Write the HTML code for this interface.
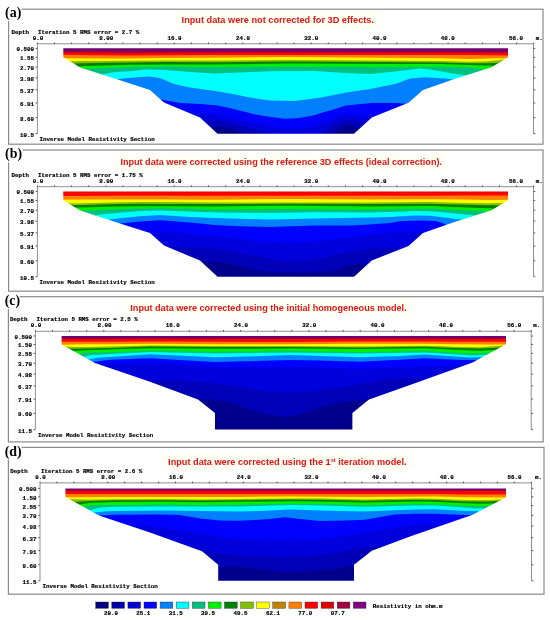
<!DOCTYPE html>
<html lang="en"><head><meta charset="utf-8"><title>Inverse model resistivity sections</title>
<style>html,body{margin:0;padding:0;background:#fff}body{width:550px;height:620px;overflow:hidden}svg{display:block}</style>
</head><body>
<svg width="550" height="620" viewBox="0 0 550 620">
<rect width="550" height="620" fill="#ffffff"/>
<defs><filter id="soft" x="-2%" y="-5%" width="104%" height="110%"><feGaussianBlur stdDeviation="0.45"/></filter></defs>
<g id="panel-a">
<rect x="8.6" y="9.2" width="534.4" height="135" fill="none" stroke="#8a8a8a" stroke-width="1.2"/>
<rect x="3" y="6" width="18.7" height="15" fill="#ffffff"/>
<text x="5.1" y="16.9" font-family="Liberation Serif, DejaVu Serif, serif" font-weight="bold" font-size="13.9" fill="#000">(a)</text>
<rect x="175.6" y="11.3" width="202.4" height="17" fill="#fffff4"/>
<text x="181.6" y="23.3" font-family="Liberation Sans, DejaVu Sans, sans-serif" font-weight="bold" font-size="9.1" fill="#e31414" textLength="192.4" lengthAdjust="spacingAndGlyphs">Input data were not corrected for 3D effects.</text>
<g filter="url(#soft)">
<rect x="62.3" y="47.8" width="446.7" height="86.4" fill="#700070"/>
<polygon points="60,134.7 60,51 95,51.1 130,51.1 165,51.2 215,51.4 290,51.3 380,51.6 440,51.3 470,51.3 510,51.4 510,134.7" fill="#a00040"/>
<polygon points="60,134.7 60,52.6 95,52.6 130,52.9 165,52.7 215,52.6 290,52.6 380,52.7 440,52.6 470,52.6 510,52.8 510,134.7" fill="#ff0000"/>
<polygon points="60,134.7 60,54.8 95,55.2 130,55.4 165,55.2 215,54.9 290,54.9 380,54.9 440,54.9 470,55 510,55.5 510,134.7" fill="#ff8000"/>
<polygon points="60,134.7 60,57.2 65.7,58.2 95,58.4 130,58.4 165,58.1 215,57.8 290,56.9 380,57.7 440,58.2 470,58.9 490,58.6 510,58.2 510,134.7" fill="#ffff00"/>
<polygon points="70.1,134.7 70.1,61.2 80,61.1 95,61 130,60.7 165,60.4 215,60.6 290,60.1 380,60.4 440,61.1 470,61.8 485,61.6 505.5,59.6 505.5,134.7" fill="#80c000"/>
<polygon points="74.4,134.7 74.4,63.5 95,63 130,62.5 165,62.1 215,62.2 290,61.5 380,62 440,62.5 470,63.3 485,63.3 500,62.7 500,134.7" fill="#008000"/>
<polygon points="79,134.7 79,66.6 95,65.7 130,64.8 165,64.4 215,64.4 290,63.5 380,64 440,64 470,65.1 485,65.6 493.6,65.8 493.6,134.7" fill="#00f000"/>
<polygon points="84.5,134.7 84.5,69.2 90.7,68.5 101.6,67.9 118,67.4 130,67 165,66.6 215,67.1 290,66.4 380,66.9 440,66.7 470,67.6 484.5,69.2 484.5,134.7" fill="#00c080"/>
<polygon points="102,134.7 102,74.6 115,72 130,71.2 145,69.5 165,70 190,72 215,73.6 240,72.5 270,71.2 315,71 345,73 370,74 380,73 400,71 420,68.6 430,69.6 450,73 466,75.2 466,134.7" fill="#00ffff"/>
<polygon points="117.5,134.7 117.5,79.2 128,77.9 140,76.9 149,76.6 160,78 174,84 190,87.6 215,91 230,93.6 250,97.6 270,100.5 295,101 321,97.5 346,92.4 370,89 395,84 410,78.6 425,77.2 445,78.5 453.5,79.5 453.5,134.7" fill="#0080ff"/>
<polygon points="161,134.7 161,99.6 180,103 200,104 217,105.6 229.7,108 241.4,110.9 255.9,114.5 270.5,117 285,118.7 299.5,117.9 314,115.3 324.3,112 336,108.7 346,105.5 372,103 397,103 408,104 408,134.7" fill="#0000ff"/>
<polygon points="190,134.7 190,113.5 205,113.8 219.5,115.3 234,118.2 248.6,121.8 263.2,125.5 277.7,127.6 285,128.4 299.5,128.4 314,126.2 325.7,121.8 334.5,118.2 343.2,115.3 353.4,114.5 365,116 375,116.2 375,134.7" fill="#0000dc"/>
<polygon points="207,134.7 207,120.5 219.5,121 234,124 248.6,127.6 263.2,131.3 270.5,134.5 318.5,134.5 325.7,129.8 334.5,124 343.2,120.4 350.5,119.6 357.7,121 365,124 365,134.7" fill="#0000b8"/>
<polygon points="212.3,134.7 212.3,127.6 219.5,126.2 234,129 245.7,134.5 333,134.5 338.8,128.4 346,125.5 352,125.5 357.7,128.4 360,130 360,134.7" fill="#00008c"/>
<path d="M55.3 45.8H516V136.2H55.3ZM63.3 48.3L63.3 57.2L80.2 67.5L120 80.3L150 90L164 102.5L200 117.4L217.5 133.7L354 133.7L371.8 117.4L408.5 102.8L423 90L453 79.5L491.5 67.2L508 57.2L508 48.3Z" fill="#ffffff" fill-rule="evenodd"/>
</g>
<path d="M37.4 133.6V43.8H533.5V133.6" fill="none" stroke="#848484" stroke-width="0.9"/>
<path d="M37.4 44v-1.5M54.5 44v-1.5M71.6 44v-1.5M88.7 44v-1.5M105.9 44v-1.5M123 44v-1.5M140.1 44v-1.5M157.2 44v-1.5M174.3 44v-1.5M191.4 44v-1.5M208.5 44v-1.5M225.7 44v-1.5M242.8 44v-1.5M259.9 44v-1.5M277 44v-1.5M294.1 44v-1.5M311.2 44v-1.5M328.3 44v-1.5M345.5 44v-1.5M362.6 44v-1.5M379.7 44v-1.5M396.8 44v-1.5M413.9 44v-1.5M431 44v-1.5M448.1 44v-1.5M465.2 44v-1.5M482.4 44v-1.5M499.5 44v-1.5M516.6 44v-1.5M533.7 44v-1.5M37.2 48.4h-1.6M533.7 48.4h1.6M37.2 57.3h-1.6M533.7 57.3h1.6M37.2 67.1h-1.6M533.7 67.1h1.6M37.2 78h-1.6M533.7 78h1.6M37.2 89.8h-1.6M533.7 89.8h1.6M37.2 103h-1.6M533.7 103h1.6M37.2 117.7h-1.6M533.7 117.7h1.6M37.2 133.6h-1.6M533.7 133.6h1.6" fill="none" stroke="#383838" stroke-width="0.85"/>
<g font-family="Liberation Mono, DejaVu Sans Mono, monospace" font-weight="bold" font-size="5.9" stroke="#000" stroke-width="0.18" fill="#000">
<text x="11.6" y="33.6" textLength="17.5" lengthAdjust="spacingAndGlyphs">Depth</text>
<text x="38.1" y="33.6" textLength="101.2" lengthAdjust="spacingAndGlyphs">Iteration 5 RMS error = 2.7 %</text>
<text x="32.7" y="39.6" textLength="10.5" lengthAdjust="spacingAndGlyphs">0.0</text>
<text x="99.3" y="39.6" textLength="14" lengthAdjust="spacingAndGlyphs">8.00</text>
<text x="167.6" y="39.6" textLength="14" lengthAdjust="spacingAndGlyphs">16.0</text>
<text x="235.9" y="39.6" textLength="14" lengthAdjust="spacingAndGlyphs">24.0</text>
<text x="304.2" y="39.6" textLength="14" lengthAdjust="spacingAndGlyphs">32.0</text>
<text x="372.5" y="39.6" textLength="14" lengthAdjust="spacingAndGlyphs">40.0</text>
<text x="440.8" y="39.6" textLength="14" lengthAdjust="spacingAndGlyphs">48.0</text>
<text x="509.1" y="39.6" textLength="14" lengthAdjust="spacingAndGlyphs">56.0</text>
<text x="535.7" y="39.6" textLength="7" lengthAdjust="spacingAndGlyphs">m.</text>
<text x="16.5" y="51.3" textLength="17.5" lengthAdjust="spacingAndGlyphs">0.500</text>
<text x="20" y="60.2" textLength="14" lengthAdjust="spacingAndGlyphs">1.55</text>
<text x="20" y="70" textLength="14" lengthAdjust="spacingAndGlyphs">2.70</text>
<text x="20" y="80.9" textLength="14" lengthAdjust="spacingAndGlyphs">3.98</text>
<text x="20" y="92.7" textLength="14" lengthAdjust="spacingAndGlyphs">5.37</text>
<text x="20" y="105.9" textLength="14" lengthAdjust="spacingAndGlyphs">6.91</text>
<text x="20" y="120.6" textLength="14" lengthAdjust="spacingAndGlyphs">8.60</text>
<text x="20" y="136.5" textLength="14" lengthAdjust="spacingAndGlyphs">10.5</text>
<text x="39.6" y="140.8" textLength="115.2" lengthAdjust="spacingAndGlyphs">Inverse Model Resistivity Section</text>
</g>
</g>
<g id="panel-b">
<rect x="8.6" y="150" width="534.4" height="141.2" fill="none" stroke="#8a8a8a" stroke-width="1.2"/>
<rect x="3" y="147.3" width="19.5" height="15" fill="#ffffff"/>
<text x="5.1" y="158.2" font-family="Liberation Serif, DejaVu Serif, serif" font-weight="bold" font-size="13.9" fill="#000">(b)</text>
<rect x="114.4" y="153.3" width="331.6" height="17" fill="#fffff4"/>
<text x="120.4" y="165.3" font-family="Liberation Sans, DejaVu Sans, sans-serif" font-weight="bold" font-size="9.1" fill="#e31414" textLength="321.6" lengthAdjust="spacingAndGlyphs">Input data were corrected using the reference 3D effects (ideal correction).</text>
<g filter="url(#soft)">
<rect x="62.3" y="190.9" width="446.7" height="86.4" fill="#d40000"/>
<polygon points="60,277.8 60,192.3 510,192.3 510,277.8" fill="#ff0000"/>
<polygon points="60,277.8 60,196 110,195.7 140,195.8 215,195.8 290,195.8 370,195.8 430,195.8 470,195.6 510,195.6 510,277.8" fill="#ff8000"/>
<polygon points="60,277.8 60,199.7 85,199.6 110,199.5 140,199.5 165,199.5 215,199.7 290,199 370,199.5 430,199.2 460,199.6 490,199.9 510,199.8 510,277.8" fill="#ffff00"/>
<polygon points="68,277.8 68,203.3 76,203.4 90,203 110,202.4 140,202.1 165,202.1 215,202.4 290,202.4 370,202.4 430,202 455,202.7 487.7,203.3 503,203 503,277.8" fill="#80c000"/>
<polygon points="71.2,277.8 71.2,205.2 85,205 100,204.5 120,204 140,203.8 165,203.9 215,204 290,203.8 370,204 430,203.7 455,204.4 487.7,205.2 499.7,205.2 499.7,277.8" fill="#008000"/>
<polygon points="75.4,277.8 75.4,207.6 90,207.3 105,206.8 120,206.4 140,206.2 165,206.3 215,206.4 290,205.8 370,206.4 430,206 455,207.1 487.7,208.2 494.3,208.5 494.3,277.8" fill="#00f000"/>
<polygon points="81,277.8 81,210.7 95,210 110,209.4 120,209 140,208.5 160,208.2 215,209.6 290,208.9 370,209.6 430,208.7 455,209.8 475,210.8 486.6,211.1 486.6,277.8" fill="#00c080"/>
<polygon points="96,277.8 96,215.3 105,214 120,212.7 140,211.1 160,210.4 190,211.6 215,212.5 270,213 315,212.2 370,212.5 390,212 415,211 430,211.3 445,212.5 455,213.6 465,214.6 474.6,215.3 474.6,277.8" fill="#00ffff"/>
<polygon points="109,277.8 109,219.6 120,218.2 140,216.2 160,215.1 190,217 215,218 270,219.6 315,218.6 370,217.5 390,216.9 415,215.4 430,215.7 445,217.5 455,219.1 461.5,219.6 461.5,277.8" fill="#0080ff"/>
<polygon points="120,277.8 120,223.4 140,221.6 160,220.2 190,222.6 215,224.9 240,226.2 270,227 315,225.6 350,225.6 370,224.4 390,223.1 400,221.3 420,220.4 436,221 443,223.2 447,225.6 447,277.8" fill="#0000ff"/>
<polygon points="149,277.8 149,233 165,231.5 180,233 195,235 222,236.8 249.5,240.5 277,242.3 295,243 312,241.6 339.5,238.8 367,235.2 385,232.8 410,231.6 424,232.2 424,277.8" fill="#0000dc"/>
<polygon points="165.4,277.8 165.4,247 195,247.7 222,249.5 249.5,255 268,258.6 285,261.8 303,261.4 321.4,258.2 339.5,254 357.7,250.5 376,247.9 397,248 397,277.8" fill="#0000b8"/>
<polygon points="200,277.8 200,261 222,262.3 240.5,266 258.6,270.5 277,272 295,272.6 312,272.4 336,270.6 345,267.2 357.7,264 367,264.7 367,277.8" fill="#00008c"/>
<path d="M55.3 188.9H516V279.3H55.3ZM63.3 191.4L63.3 200.3L80.2 210.6L120 223.4L150 233.1L164 245.6L200 260.5L217.5 276.8L354 276.8L371.8 260.5L408.5 245.9L423 233.1L453 222.6L491.5 210.3L508 200.3L508 191.4Z" fill="#ffffff" fill-rule="evenodd"/>
</g>
<path d="M37.4 276.7V186.7H533.5V276.7" fill="none" stroke="#848484" stroke-width="0.9"/>
<path d="M37.4 186.9v-1.5M54.5 186.9v-1.5M71.6 186.9v-1.5M88.7 186.9v-1.5M105.9 186.9v-1.5M123 186.9v-1.5M140.1 186.9v-1.5M157.2 186.9v-1.5M174.3 186.9v-1.5M191.4 186.9v-1.5M208.5 186.9v-1.5M225.7 186.9v-1.5M242.8 186.9v-1.5M259.9 186.9v-1.5M277 186.9v-1.5M294.1 186.9v-1.5M311.2 186.9v-1.5M328.3 186.9v-1.5M345.5 186.9v-1.5M362.6 186.9v-1.5M379.7 186.9v-1.5M396.8 186.9v-1.5M413.9 186.9v-1.5M431 186.9v-1.5M448.1 186.9v-1.5M465.2 186.9v-1.5M482.4 186.9v-1.5M499.5 186.9v-1.5M516.6 186.9v-1.5M533.7 186.9v-1.5M37.2 191.5h-1.6M533.7 191.5h1.6M37.2 200.4h-1.6M533.7 200.4h1.6M37.2 210.2h-1.6M533.7 210.2h1.6M37.2 221.1h-1.6M533.7 221.1h1.6M37.2 232.9h-1.6M533.7 232.9h1.6M37.2 246.1h-1.6M533.7 246.1h1.6M37.2 260.8h-1.6M533.7 260.8h1.6M37.2 276.7h-1.6M533.7 276.7h1.6" fill="none" stroke="#383838" stroke-width="0.85"/>
<g font-family="Liberation Mono, DejaVu Sans Mono, monospace" font-weight="bold" font-size="5.9" stroke="#000" stroke-width="0.18" fill="#000">
<text x="11.6" y="176.7" textLength="17.5" lengthAdjust="spacingAndGlyphs">Depth</text>
<text x="38.1" y="176.7" textLength="104.7" lengthAdjust="spacingAndGlyphs">Iteration 5 RMS error = 1.75 %</text>
<text x="32.7" y="182.7" textLength="10.5" lengthAdjust="spacingAndGlyphs">0.0</text>
<text x="99.3" y="182.7" textLength="14" lengthAdjust="spacingAndGlyphs">8.00</text>
<text x="167.6" y="182.7" textLength="14" lengthAdjust="spacingAndGlyphs">16.0</text>
<text x="235.9" y="182.7" textLength="14" lengthAdjust="spacingAndGlyphs">24.0</text>
<text x="304.2" y="182.7" textLength="14" lengthAdjust="spacingAndGlyphs">32.0</text>
<text x="372.5" y="182.7" textLength="14" lengthAdjust="spacingAndGlyphs">40.0</text>
<text x="440.8" y="182.7" textLength="14" lengthAdjust="spacingAndGlyphs">48.0</text>
<text x="509.1" y="182.7" textLength="14" lengthAdjust="spacingAndGlyphs">56.0</text>
<text x="535.7" y="182.7" textLength="7" lengthAdjust="spacingAndGlyphs">m.</text>
<text x="16.5" y="194.4" textLength="17.5" lengthAdjust="spacingAndGlyphs">0.500</text>
<text x="20" y="203.3" textLength="14" lengthAdjust="spacingAndGlyphs">1.55</text>
<text x="20" y="213.1" textLength="14" lengthAdjust="spacingAndGlyphs">2.70</text>
<text x="20" y="224" textLength="14" lengthAdjust="spacingAndGlyphs">3.98</text>
<text x="20" y="235.8" textLength="14" lengthAdjust="spacingAndGlyphs">5.37</text>
<text x="20" y="249" textLength="14" lengthAdjust="spacingAndGlyphs">6.91</text>
<text x="20" y="263.7" textLength="14" lengthAdjust="spacingAndGlyphs">8.60</text>
<text x="20" y="279.6" textLength="14" lengthAdjust="spacingAndGlyphs">10.5</text>
<text x="39.6" y="283.8" textLength="115.2" lengthAdjust="spacingAndGlyphs">Inverse Model Resistivity Section</text>
</g>
</g>
<g id="panel-c">
<rect x="8.4" y="296.7" width="534.8" height="145.2" fill="none" stroke="#8a8a8a" stroke-width="1.2"/>
<rect x="3" y="294.1" width="16.7" height="15" fill="#ffffff"/>
<text x="4.7" y="305" font-family="Liberation Serif, DejaVu Serif, serif" font-weight="bold" font-size="13.9" fill="#000">(c)</text>
<rect x="124.3" y="298.6" width="286.3" height="17" fill="#fffff4"/>
<text x="130.3" y="310.6" font-family="Liberation Sans, DejaVu Sans, sans-serif" font-weight="bold" font-size="9.1" fill="#e31414" textLength="276.3" lengthAdjust="spacingAndGlyphs">Input data were corrected using the initial homogeneous model.</text>
<g filter="url(#soft)">
<rect x="60.6" y="335.5" width="446.4" height="94.6" fill="#700070"/>
<polygon points="58,430.6 58,337.9 508,338 508,430.6" fill="#a00040"/>
<polygon points="58,430.6 58,339.1 508,339.1 508,430.6" fill="#ff0000"/>
<polygon points="58,430.6 58,341.8 110,341.8 150,341.6 215,341.8 290,342 360,341.6 425,341.6 455,341.7 508,341.8 508,430.6" fill="#ff8000"/>
<polygon points="58,430.6 58,344.3 63.6,344.8 85,344.2 110,344.2 150,343.8 215,344.2 290,344.2 360,343.8 425,343.8 455,344.2 490,344.6 508,344.6 508,430.6" fill="#ffff00"/>
<polygon points="63.6,430.6 63.6,346.4 75,347 85,346.9 110,346.5 150,345.6 215,346.1 290,346.1 360,346.4 425,345.7 455,346.8 480,347.2 503,345.6 503,430.6" fill="#80c000"/>
<polygon points="67.6,430.6 67.6,348.8 85,348.5 110,347.9 150,346.6 215,347.1 290,347.1 360,347.5 425,346.8 455,347.9 480,348.6 499.7,347.6 499.7,430.6" fill="#008000"/>
<polygon points="71.6,430.6 71.6,351.2 85,350.2 110,349.6 150,348.2 215,348.8 290,348.5 360,349.1 425,348.3 455,349.7 480,350.8 495.9,350 495.9,430.6" fill="#00f000"/>
<polygon points="77.6,430.6 77.6,354 85,352.6 110,352.2 150,350.8 215,351.8 290,351.1 360,352.2 425,350.9 455,352.7 475,353.6 490.4,352.7 490.4,430.6" fill="#00c080"/>
<polygon points="83.6,430.6 83.6,357 90,355.2 110,353.9 150,352 215,353.6 290,352.5 360,353.4 425,352.4 455,354.2 470,355.4 486.6,354.9 486.6,430.6" fill="#00ffff"/>
<polygon points="87.6,430.6 87.6,359.4 100,357.6 110,356.9 150,354.2 215,357.3 255,356.2 290,355.1 360,357.2 400,356 425,354.6 455,356.4 468,357.6 482.3,357.3 482.3,430.6" fill="#0080ff"/>
<polygon points="92.6,430.6 92.6,362 110,359.8 150,358.2 180,360 215,362 255,361 290,360 320,360.5 360,361.8 400,359.8 425,358.2 455,359.7 476.3,360.1 476.3,430.6" fill="#0000ff"/>
<polygon points="96,430.6 96,363.5 110,364 150,363 210,367 255,367.5 310,367 355,369 410,367 450,366 467,365.2 467,430.6" fill="#0000dc"/>
<polygon points="147,430.6 147,380.3 185,381 212,382.7 239.5,387.3 267,391 285,392.2 303,391.8 330.5,389 357.7,384.5 385,380 410,378 426,379.5 426,430.6" fill="#0000b8"/>
<polygon points="198,430.6 198,399.6 212,399.5 230.5,402.7 248.6,409 267,414.5 285,417 299.5,414.5 321.4,407.6 339.5,402.7 357.7,400.4 369,399.6 369,430.6" fill="#00008c"/>
<path d="M53.6 333.5H514V432.1H53.6ZM61.6 336L61.6 344.5L78 353.6L95 363L150 381.8L198 399.6L215 413L215 429.6L352.4 429.6L352.4 413L369 399.6L410 385L472.6 362.6L489.6 353.3L506 344.2L506 336Z" fill="#ffffff" fill-rule="evenodd"/>
</g>
<path d="M35.4 429.6V331.3H531.2V429.6" fill="none" stroke="#848484" stroke-width="0.9"/>
<path d="M35.4 331.5v-1.5M52.5 331.5v-1.5M69.6 331.5v-1.5M86.7 331.5v-1.5M103.8 331.5v-1.5M120.9 331.5v-1.5M138 331.5v-1.5M155.1 331.5v-1.5M172.2 331.5v-1.5M189.3 331.5v-1.5M206.4 331.5v-1.5M223.5 331.5v-1.5M240.6 331.5v-1.5M257.6 331.5v-1.5M274.7 331.5v-1.5M291.8 331.5v-1.5M308.9 331.5v-1.5M326 331.5v-1.5M343.1 331.5v-1.5M360.2 331.5v-1.5M377.3 331.5v-1.5M394.4 331.5v-1.5M411.5 331.5v-1.5M428.6 331.5v-1.5M445.7 331.5v-1.5M462.8 331.5v-1.5M479.9 331.5v-1.5M497 331.5v-1.5M514.1 331.5v-1.5M531.2 331.5v-1.5M35.2 336h-1.6M531.4 336h1.6M35.2 344.5h-1.6M531.4 344.5h1.6M35.2 353.4h-1.6M531.4 353.4h1.6M35.2 363.2h-1.6M531.4 363.2h1.6M35.2 374.1h-1.6M531.4 374.1h1.6M35.2 385.9h-1.6M531.4 385.9h1.6M35.2 399.1h-1.6M531.4 399.1h1.6M35.2 413.4h-1.6M531.4 413.4h1.6M35.2 429.6h-1.6M531.4 429.6h1.6" fill="none" stroke="#383838" stroke-width="0.85"/>
<g font-family="Liberation Mono, DejaVu Sans Mono, monospace" font-weight="bold" font-size="5.9" stroke="#000" stroke-width="0.18" fill="#000">
<text x="10.1" y="321.1" textLength="17.5" lengthAdjust="spacingAndGlyphs">Depth</text>
<text x="36.5" y="321.1" textLength="101.2" lengthAdjust="spacingAndGlyphs">Iteration 5 RMS error = 2.5 %</text>
<text x="30.8" y="327.1" textLength="10.5" lengthAdjust="spacingAndGlyphs">0.0</text>
<text x="97.4" y="327.1" textLength="14" lengthAdjust="spacingAndGlyphs">8.00</text>
<text x="165.7" y="327.1" textLength="14" lengthAdjust="spacingAndGlyphs">16.0</text>
<text x="234" y="327.1" textLength="14" lengthAdjust="spacingAndGlyphs">24.0</text>
<text x="302.3" y="327.1" textLength="14" lengthAdjust="spacingAndGlyphs">32.0</text>
<text x="370.6" y="327.1" textLength="14" lengthAdjust="spacingAndGlyphs">40.0</text>
<text x="438.9" y="327.1" textLength="14" lengthAdjust="spacingAndGlyphs">48.0</text>
<text x="507.2" y="327.1" textLength="14" lengthAdjust="spacingAndGlyphs">56.0</text>
<text x="533.2" y="327.1" textLength="7" lengthAdjust="spacingAndGlyphs">m.</text>
<text x="14.5" y="338.9" textLength="17.5" lengthAdjust="spacingAndGlyphs">0.500</text>
<text x="18" y="347.4" textLength="14" lengthAdjust="spacingAndGlyphs">1.50</text>
<text x="18" y="356.3" textLength="14" lengthAdjust="spacingAndGlyphs">2.55</text>
<text x="18" y="366.1" textLength="14" lengthAdjust="spacingAndGlyphs">3.70</text>
<text x="18" y="377" textLength="14" lengthAdjust="spacingAndGlyphs">4.98</text>
<text x="18" y="388.8" textLength="14" lengthAdjust="spacingAndGlyphs">6.37</text>
<text x="18" y="402" textLength="14" lengthAdjust="spacingAndGlyphs">7.91</text>
<text x="18" y="416.3" textLength="14" lengthAdjust="spacingAndGlyphs">9.60</text>
<text x="18" y="432.5" textLength="14" lengthAdjust="spacingAndGlyphs">11.5</text>
<text x="38.1" y="436.8" textLength="115.2" lengthAdjust="spacingAndGlyphs">Inverse Model Resistivity Section</text>
</g>
</g>
<g id="panel-d">
<rect x="8.4" y="447.4" width="535.6" height="146.8" fill="none" stroke="#8a8a8a" stroke-width="1.2"/>
<rect x="3" y="444.9" width="18.7" height="15" fill="#ffffff"/>
<text x="4.7" y="455.8" font-family="Liberation Serif, DejaVu Serif, serif" font-weight="bold" font-size="13.9" fill="#000">(d)</text>
<rect x="162.1" y="453.1" width="248.4" height="17" fill="#fffff4"/>
<text x="168.1" y="465.1" font-family="Liberation Sans, DejaVu Sans, sans-serif" font-weight="bold" font-size="9.1" fill="#e31414" textLength="238.4" lengthAdjust="spacingAndGlyphs">Input data were corrected using the 1<tspan font-size="5.6" dy="-3.2">st</tspan><tspan dy="3.2"> iteration model.</tspan></text>
<g filter="url(#soft)">
<rect x="64.4" y="487.9" width="442.6" height="93.4" fill="#700070"/>
<polygon points="62,581.8 62,489.9 508,489.9 508,581.8" fill="#a00040"/>
<polygon points="62,581.8 62,491.1 508,491.1 508,581.8" fill="#ff0000"/>
<polygon points="62,581.8 62,494 435,494 465,494.4 508,494.6 508,581.8" fill="#ff8000"/>
<polygon points="62,581.8 62,496.8 69,497.3 115,496.9 240,496.9 290,496.5 365,496.9 435,496.6 465,497.3 508,497.4 508,581.8" fill="#ffff00"/>
<polygon points="69,581.8 69,499.2 90,499.6 115,499.2 165,499 200,499.4 240,499 290,498.4 320,498.6 365,499.5 415,498.6 435,498.8 465,500 490,500.2 501.9,499.3 501.9,581.8" fill="#80c000"/>
<polygon points="74.4,581.8 74.4,502 90,501 115,500.3 165,500.2 200,500.6 240,500.2 290,499.5 320,499.8 365,500.8 415,499.8 435,500 465,501.4 485,501.6 498.6,500.9 498.6,581.8" fill="#008000"/>
<polygon points="79.4,581.8 79.4,504.6 90,502.7 115,502.1 165,501.8 200,502.2 240,501.8 290,501.3 320,501.4 365,502.4 415,501.4 435,501.7 465,503.3 480,503.8 493.7,503.4 493.7,581.8" fill="#00f000"/>
<polygon points="84.4,581.8 84.4,507.6 90,505.3 115,504.9 165,504.4 200,504.9 240,504.4 290,503.8 320,504 365,505.3 415,504 435,504.4 465,505.8 478,506.2 488.8,505.8 488.8,581.8" fill="#00c080"/>
<polygon points="89.8,581.8 89.8,510.2 100,507.6 115,506.8 165,506.4 200,506.6 240,506.6 290,505.1 320,505.6 365,506.7 415,505.4 435,505.6 465,507.5 475,508.2 484.4,508.2 484.4,581.8" fill="#00ffff"/>
<polygon points="93.4,581.8 93.4,512.4 105,511.4 115,511.1 165,510.4 200,511 240,511.6 265,510.8 290,509.6 320,510.4 365,511.5 395,510.2 415,509.4 435,509.2 465,510.9 478.4,511.3 478.4,581.8" fill="#0080ff"/>
<polygon points="99.4,581.8 99.4,515.6 115,514.7 160,514.6 180,515.1 200,518.5 220,520.6 240,520.8 255,520 270,519 285,517.2 300,519 320,521 345,520.5 365,519.8 385,516.2 395,514.6 415,513.8 435,513.8 465,515 471.4,515.1 471.4,581.8" fill="#0000ff"/>
<polygon points="130,581.8 130,525.8 150,526.6 188,531.7 226,538 264.5,540.6 290,540.6 321,539.4 359,534.3 384.5,529.2 410,525.4 440,524 446,524.2 446,581.8" fill="#0000dc"/>
<polygon points="190.7,581.8 190.7,547 200.5,549.3 221.4,553.8 248.6,556.5 285,557 303,556.5 321.4,554.7 339.5,552 357.7,548.4 372,546.8 383,545.7 383,581.8" fill="#0000b8"/>
<polygon points="218.2,581.8 218.2,567.5 230.5,566.5 248.6,567.5 267,570 285,572 303,571.6 321.4,570.2 336,568.4 345,566.5 354,565.6 354,581.8" fill="#00008c"/>
<path d="M57.4 485.9H514V583.3H57.4ZM65.4 488.4L65.4 497L82 506L99 515.5L150 532.5L202 551.3L218.2 564.8L218.2 580.8L354 580.8L354 564.8L371.8 550.8L410 536.5L472 515L490 505.7L506 497.2L506 488.4Z" fill="#ffffff" fill-rule="evenodd"/>
</g>
<path d="M40 580.8V482.9H531.5V580.8" fill="none" stroke="#848484" stroke-width="0.9"/>
<path d="M40 483.1v-1.5M56.9 483.1v-1.5M73.9 483.1v-1.5M90.8 483.1v-1.5M107.8 483.1v-1.5M124.7 483.1v-1.5M141.6 483.1v-1.5M158.6 483.1v-1.5M175.5 483.1v-1.5M192.5 483.1v-1.5M209.4 483.1v-1.5M226.3 483.1v-1.5M243.3 483.1v-1.5M260.2 483.1v-1.5M277.2 483.1v-1.5M294.1 483.1v-1.5M311 483.1v-1.5M328 483.1v-1.5M344.9 483.1v-1.5M361.9 483.1v-1.5M378.8 483.1v-1.5M395.7 483.1v-1.5M412.7 483.1v-1.5M429.6 483.1v-1.5M446.6 483.1v-1.5M463.5 483.1v-1.5M480.4 483.1v-1.5M497.4 483.1v-1.5M514.3 483.1v-1.5M531.3 483.1v-1.5M39.8 488.4h-1.6M531.7 488.4h1.6M39.8 496.8h-1.6M531.7 496.8h1.6M39.8 505.6h-1.6M531.7 505.6h1.6M39.8 515.3h-1.6M531.7 515.3h1.6M39.8 526h-1.6M531.7 526h1.6M39.8 537.7h-1.6M531.7 537.7h1.6M39.8 550.6h-1.6M531.7 550.6h1.6M39.8 564.8h-1.6M531.7 564.8h1.6M39.8 580.8h-1.6M531.7 580.8h1.6" fill="none" stroke="#383838" stroke-width="0.85"/>
<g font-family="Liberation Mono, DejaVu Sans Mono, monospace" font-weight="bold" font-size="5.9" stroke="#000" stroke-width="0.18" fill="#000">
<text x="10.3" y="473.2" textLength="17.5" lengthAdjust="spacingAndGlyphs">Depth</text>
<text x="41" y="473.2" textLength="101.2" lengthAdjust="spacingAndGlyphs">Iteration 5 RMS error = 2.6 %</text>
<text x="35.3" y="479.4" textLength="10.5" lengthAdjust="spacingAndGlyphs">0.0</text>
<text x="101.2" y="479.4" textLength="14" lengthAdjust="spacingAndGlyphs">8.00</text>
<text x="169" y="479.4" textLength="14" lengthAdjust="spacingAndGlyphs">16.0</text>
<text x="236.7" y="479.4" textLength="14" lengthAdjust="spacingAndGlyphs">24.0</text>
<text x="304.4" y="479.4" textLength="14" lengthAdjust="spacingAndGlyphs">32.0</text>
<text x="372.1" y="479.4" textLength="14" lengthAdjust="spacingAndGlyphs">40.0</text>
<text x="439.8" y="479.4" textLength="14" lengthAdjust="spacingAndGlyphs">48.0</text>
<text x="507.6" y="479.4" textLength="14" lengthAdjust="spacingAndGlyphs">56.0</text>
<text x="535" y="479.4" textLength="7" lengthAdjust="spacingAndGlyphs">m.</text>
<text x="19.1" y="491.3" textLength="17.5" lengthAdjust="spacingAndGlyphs">0.500</text>
<text x="22.6" y="499.7" textLength="14" lengthAdjust="spacingAndGlyphs">1.50</text>
<text x="22.6" y="508.5" textLength="14" lengthAdjust="spacingAndGlyphs">2.55</text>
<text x="22.6" y="518.2" textLength="14" lengthAdjust="spacingAndGlyphs">3.70</text>
<text x="22.6" y="528.9" textLength="14" lengthAdjust="spacingAndGlyphs">4.98</text>
<text x="22.6" y="540.6" textLength="14" lengthAdjust="spacingAndGlyphs">6.37</text>
<text x="22.6" y="553.5" textLength="14" lengthAdjust="spacingAndGlyphs">7.91</text>
<text x="22.6" y="567.7" textLength="14" lengthAdjust="spacingAndGlyphs">9.60</text>
<text x="22.6" y="583.7" textLength="14" lengthAdjust="spacingAndGlyphs">11.5</text>
<text x="42.5" y="588.3" textLength="115.2" lengthAdjust="spacingAndGlyphs">Inverse Model Resistivity Section</text>
</g>
</g>
<g id="legend">
<rect x="95.7" y="602" width="12.7" height="6.3" fill="#000080" stroke="#303030" stroke-width="0.4"/>
<rect x="111.8" y="602" width="12.7" height="6.3" fill="#0000a8" stroke="#303030" stroke-width="0.4"/>
<rect x="127.9" y="602" width="12.7" height="6.3" fill="#0000d0" stroke="#303030" stroke-width="0.4"/>
<rect x="144" y="602" width="12.7" height="6.3" fill="#0000ff" stroke="#303030" stroke-width="0.4"/>
<rect x="160.1" y="602" width="12.7" height="6.3" fill="#0080ff" stroke="#303030" stroke-width="0.4"/>
<rect x="176.2" y="602" width="12.7" height="6.3" fill="#00ffff" stroke="#303030" stroke-width="0.4"/>
<rect x="192.3" y="602" width="12.7" height="6.3" fill="#00c080" stroke="#303030" stroke-width="0.4"/>
<rect x="208.4" y="602" width="12.7" height="6.3" fill="#00f000" stroke="#303030" stroke-width="0.4"/>
<rect x="224.5" y="602" width="12.7" height="6.3" fill="#008000" stroke="#303030" stroke-width="0.4"/>
<rect x="240.6" y="602" width="12.7" height="6.3" fill="#80c000" stroke="#303030" stroke-width="0.4"/>
<rect x="256.7" y="602" width="12.7" height="6.3" fill="#ffff00" stroke="#303030" stroke-width="0.4"/>
<rect x="272.8" y="602" width="12.7" height="6.3" fill="#c08000" stroke="#303030" stroke-width="0.4"/>
<rect x="288.9" y="602" width="12.7" height="6.3" fill="#ff8000" stroke="#303030" stroke-width="0.4"/>
<rect x="305" y="602" width="12.7" height="6.3" fill="#ff0000" stroke="#303030" stroke-width="0.4"/>
<rect x="321.1" y="602" width="12.7" height="6.3" fill="#e00000" stroke="#303030" stroke-width="0.4"/>
<rect x="337.2" y="602" width="12.7" height="6.3" fill="#a00040" stroke="#303030" stroke-width="0.4"/>
<rect x="353.3" y="602" width="12.7" height="6.3" fill="#800080" stroke="#303030" stroke-width="0.4"/>
<g font-family="Liberation Mono, DejaVu Sans Mono, monospace" font-weight="bold" font-size="5.9" stroke="#000" stroke-width="0.18" fill="#000">
<text x="103.9" y="615.3" textLength="14" lengthAdjust="spacingAndGlyphs">20.0</text>
<text x="136.3" y="615.3" textLength="14" lengthAdjust="spacingAndGlyphs">25.1</text>
<text x="168.7" y="615.3" textLength="14" lengthAdjust="spacingAndGlyphs">31.5</text>
<text x="201.1" y="615.3" textLength="14" lengthAdjust="spacingAndGlyphs">39.5</text>
<text x="233.5" y="615.3" textLength="14" lengthAdjust="spacingAndGlyphs">49.5</text>
<text x="265.9" y="615.3" textLength="14" lengthAdjust="spacingAndGlyphs">62.1</text>
<text x="298.3" y="615.3" textLength="14" lengthAdjust="spacingAndGlyphs">77.9</text>
<text x="330.7" y="615.3" textLength="14" lengthAdjust="spacingAndGlyphs">97.7</text>
<text x="372.8" y="607.8" textLength="69.8" lengthAdjust="spacingAndGlyphs">Resistivity in ohm.m</text>
</g></g>
</svg>
</body></html>
